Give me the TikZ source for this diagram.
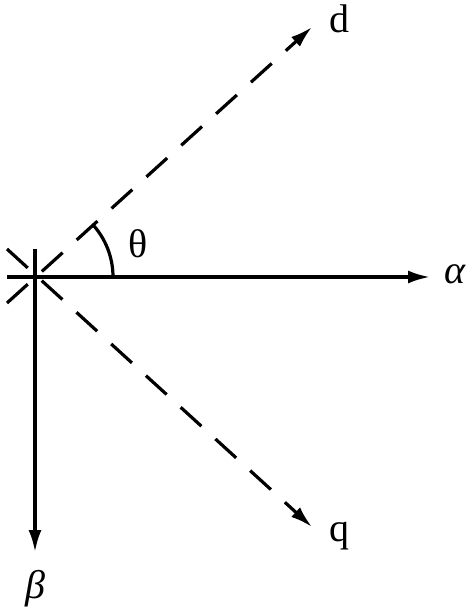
\documentclass[tikz,border=0pt]{standalone}
\usepackage{fontspec}
\setmainfont{Liberation Serif}
\usetikzlibrary{arrows.meta}
\begin{document}
\begin{tikzpicture}[x=0.5pt,y=-0.5pt,line width=1.6pt,
	axis/.style={-{Latex[length=11pt,width=6.5pt]}},
	dq/.style={dash pattern=on 14pt off 9.5pt},
	lbl/.style={font=\fontsize{20}{24}\selectfont,inner sep=0pt}]
	\useasboundingbox (0,0) rectangle (474,615);
	\coordinate (O) at (35,277);
	\coordinate (aS) at (7,277);
	\coordinate (aE) at (430,277);
	\coordinate (bS) at (35,249);
	\coordinate (bE) at (35,552);
	\coordinate (dS) at (7,303);
	\coordinate (dE) at (312,27);
	\coordinate (qS) at (7,249);
	\coordinate (qE) at (312,527);
	\draw [axis] (aS)-- (aE);
	\draw [axis] (bS)-- (bE);
	\draw [axis,dq] (dS)-- (dE);
	\draw [axis,dq] (qS)-- (qE);
	\draw (O) ++(78,0) arc [start angle=0,end angle=-42,radius=78];
	\node [lbl] (alpha) at (455,274) {\textit{α}};
	\node [lbl] (beta) at (35,589) {\textit{β}};
	\node [lbl] (d) at (339,19) {d};
	\node [lbl] (q) at (339,536) {q};
	\node [lbl] (theta) at (138,244) {θ};
\end{tikzpicture}
\end{document}
